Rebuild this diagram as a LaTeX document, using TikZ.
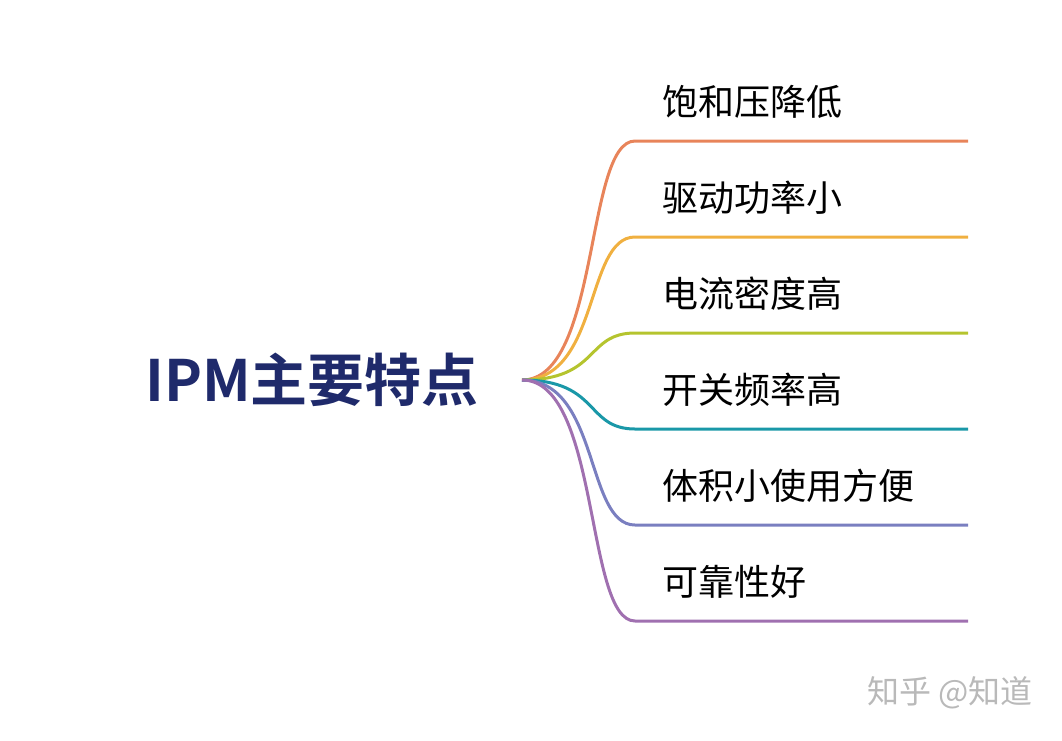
\documentclass[tikz,border=0pt]{standalone}
\usepackage{fontspec}
\newfontfamily\cjk{Noto Sans CJK SC}
\newfontfamily\cjkb{Noto Sans CJK SC Bold}
\definecolor{c1}{HTML}{E8845A}
\definecolor{c2}{HTML}{F0B040}
\definecolor{c3}{HTML}{B5C42E}
\definecolor{c4}{HTML}{1A98A8}
\definecolor{c5}{HTML}{7A7FC0}
\definecolor{c6}{HTML}{A070B0}
\definecolor{rootc}{HTML}{1F2A6B}
\tikzset{branch/.style={line width=3pt},
 leaf/.style={anchor=west,font=\cjk\fontsize{36}{40}\selectfont,inner sep=0pt}}
\begin{document}
\begin{tikzpicture}[x=1pt,y=-1pt]
\useasboundingbox (0,0) rectangle (1062,740);
\node[font=\cjkb\fontsize{57}{62}\selectfont,text=rootc,inner sep=0pt] (root) at (312,380) {IPM主要特点};
\coordinate (o) at (522,380);
\foreach \i/\y/\t in {1/141/饱和压降低,2/237/驱动功率小,3/333/电流密度高,4/429/开关频率高,5/525/体积小使用方便,6/621/可靠性好}{
  \coordinate (s\i) at (635,\y);
  \coordinate (e\i) at (968,\y);
  \draw[branch,c\i] (o) .. controls (600,380) and (585,\y) .. (s\i) -- (e\i);
  \node[leaf] (l\i) at (662,\y-39) {\t};
}
\node[font=\cjk\fontsize{32}{36}\selectfont,text=gray!55,inner sep=0pt] (wm) at (950,693) {知乎 @知道};
\end{tikzpicture}
\end{document}
